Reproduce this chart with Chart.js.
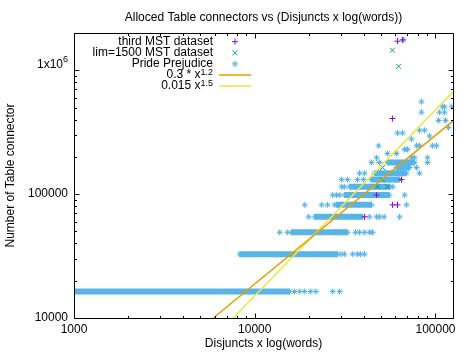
<!DOCTYPE html>
<html><head><meta charset="utf-8">
<script src="https://cdn.jsdelivr.net/npm/chart.js@4.4.1/dist/chart.umd.min.js"></script>
<style>html,body{margin:0;padding:0;background:#fff}#wrap{width:474px;height:355px}</style>
</head><body><div id="wrap"><canvas id="c" width="474" height="355"></canvas></div>
<script>
const FONT = '"Liberation Sans", Arial, sans-serif';
const titleText = 'Alloced Table connectors vs (Disjuncts x log(words))';
const xTitle = 'Disjuncts x log(words)';
const yTitle = 'Number of Table connector';
const xRange = [1000, 125000];
const yRange = [10000, 2000000];
const xTicks = [1000, 10000, 100000];
const xTickLabels = ['1000', '10000', '100000'];
const yTicks = [10000, 100000, 1000000];
const yTickLabels = ['10000', '100000', '1x10^6'];
const legendLabels = ['third MST dataset', 'lim=1500 MST dataset', 'Pride Prejudice', '0.3 * x^1.2', '0.015 x^1.5'];

// third MST dataset (+)
const thirdX = [61650, 65770, 57800, 40550, 57800, 61650, 64860, 47200];
const thirdY = [1718000, 1758000, 408000, 65536, 81920, 81920, 131072, 98304];
// lim=1500 MST dataset (x)
const limX = [57800, 62500, 50900, 47900, 54300, 50900];
const limY = [1452000, 1077000, 163840, 114688, 114688, 131072];
// Pride Prejudice: dense horizontal runs of points
const ppBandLevels = [16384, 32768, 49152, 65536, 81920, 98304, 114688, 131072, 147456, 163840, 180224];
const ppBandStart = [950, 8260, 16000, 21430, 28370, 31420, 33490, 44860, 46000, 60900, 54300];
const ppBandEnd = [15600, 28750, 32650, 39510, 44280, 55680, 55680, 63230, 69200, 71800, 76550];
// Pride Prejudice: isolated points (y level, x values)
const ppStarLevels = [16384, 32768, 49152, 65536, 81920, 98304, 114688, 131072, 147456, 163840, 180224,
  196608, 212992, 229376, 245760, 278528, 294912, 311296, 327680, 344064, 393216, 458752, 507904, 557056, 1760000];
const ppStarXs = [
  [16600, 17740, 18900, 20400, 21800, 27000, 29500],
  [30000, 31400, 34800, 37000, 38500, 40500],
  [13740, 15200, 36110, 38000, 40550, 43190, 44860],
  [19870, 43190, 47200, 49080, 52000, 63230],
  [18900, 23450, 25300, 27660, 69200],
  [26980, 28370, 29510, 67450],
  [30260, 31420, 58000],
  [30260, 32650, 37040, 40000, 44280],
  [38000, 40550, 81620],
  [78500],
  [44280, 49080, 90300],
  [47200, 73650, 76550, 90300],
  [54300, 60900],
  [67450, 70000],
  [48420, 78500, 81620, 96200, 101300],
  [73650],
  [92700],
  [61650, 65770],
  [81620, 86960],
  [118000],
  [103900, 113600],
  [83720, 105200, 112200],
  [109300, 112200, 123000],
  [83720],
  [66500]
];
// fitted curves, end points
const orangeX = [5900, 125000];
const orangeY = [10000, 390000];
const yellowX = [7600, 125000];
const yellowY = [10000, 670000];

const C_PURPLE = '#9400d3', C_GREEN = '#009e73', C_BLUE = '#56b4e9', C_ORANGE = '#e69f00', C_YELLOW = '#f0e442';

const zip = (xs, ys) => xs.map((x, i) => ({x, y: ys[i]}));
const ppStars = [];
ppStarLevels.forEach((lvl, i) => ppStarXs[i].forEach(x => ppStars.push({x, y: lvl})));

const datasets = [
  {data: zip(orangeX, orangeY), showLine: true, borderColor: C_ORANGE, borderWidth: 1.5, pointRadius: 0, order: 0},
  {data: zip(yellowX, yellowY), showLine: true, borderColor: C_YELLOW, borderWidth: 1.5, pointRadius: 0, order: 0},
  {data: zip(thirdX, thirdY), showLine: false, pointStyle: 'cross', pointRadius: 3, borderColor: C_PURPLE, borderWidth: 1, order: 1},
  {data: zip(limX, limY), showLine: false, pointStyle: 'crossRot', pointRadius: 3.5, borderColor: C_GREEN, borderWidth: 1, order: 2},
  {data: ppStars, showLine: false, pointStyle: 'star', pointRadius: 3, borderColor: C_BLUE, borderWidth: 1, order: 3}
];
ppBandLevels.forEach((lvl, i) => datasets.push({
  data: [{x: ppBandStart[i], y: lvl}, {x: ppBandEnd[i], y: lvl}],
  showLine: true, borderColor: C_BLUE, borderWidth: 6, borderCapStyle: 'butt',
  pointStyle: 'star', pointRadius: 3, pointBorderWidth: 1, pointBorderColor: C_BLUE, order: 4
}));

function drawRich(ctx, label, rightX, baseline, size, supSize, raise) {
  const [main, sup] = label.split('^');
  ctx.font = size + 'px ' + FONT;
  const mw = ctx.measureText(main).width;
  let sw = 0;
  if (sup) { ctx.font = supSize + 'px ' + FONT; sw = ctx.measureText(sup).width; }
  const x0 = rightX - mw - sw;
  ctx.textAlign = 'left'; ctx.textBaseline = 'alphabetic';
  ctx.font = size + 'px ' + FONT;
  ctx.fillText(main, x0, baseline);
  if (sup) { ctx.font = supSize + 'px ' + FONT; ctx.fillText(sup, x0 + mw, baseline - raise); }
}

const framePlugin = {
  id: 'frame',
  afterDatasetsDraw(chart) {
    const {ctx, chartArea: a, scales: {x, y}} = chart;
    ctx.save();
    ctx.strokeStyle = '#000'; ctx.lineWidth = 1;
    ctx.beginPath();
    const L = a.left + 0.5, R = a.right + 0.5, T = a.top + 0.5, B = a.bottom + 0.5;
    ctx.rect(L, T, R - L, B - T);
    const minorX = [], minorY = [];
    for (let d = 1000; d <= 100000; d *= 10) for (let m = 2; m <= 9; m++) if (d * m < xRange[1]) minorX.push(d * m);
    for (let d = 10000; d <= 1000000; d *= 10) for (let m = 2; m <= 9; m++) if (d * m < yRange[1]) minorY.push(d * m);
    const tx = (v, len) => { const p = Math.round(x.getPixelForValue(v)) + 0.5; ctx.moveTo(p, B); ctx.lineTo(p, B - len); ctx.moveTo(p, T); ctx.lineTo(p, T + len); };
    const ty = (v, len) => { const p = Math.round(y.getPixelForValue(v)) + 0.5; ctx.moveTo(L, p); ctx.lineTo(L + len, p); ctx.moveTo(R, p); ctx.lineTo(R - len, p); };
    xTicks.forEach(v => tx(v, 5)); minorX.forEach(v => tx(v, 2.5));
    yTicks.forEach(v => ty(v, 5)); minorY.forEach(v => ty(v, 2.5));
    ctx.stroke();

    ctx.fillStyle = '#000';
    // rich y tick labels (with superscript)
    yTickLabels.forEach((lab, i) => {
      if (lab.includes('^')) drawRich(ctx, lab, a.left - 6, y.getPixelForValue(yTicks[i]) - 2.7, 12, 9, 5.5);
    });
    // legend
    const colors = [C_PURPLE, C_GREEN, C_BLUE, C_ORANGE, C_YELLOW];
    const styles = ['cross', 'crossRot', 'star'];
    const radii = [3, 3.5, 3];
    legendLabels.forEach((lab, i) => {
      const ry = 41.7 + i * 11.1;
      ctx.fillStyle = '#000';
      drawRich(ctx, lab, 213, ry + 3, 12, 9, 3.5);
      if (i < 3) {
        ctx.strokeStyle = colors[i]; ctx.lineWidth = 1;
        Chart.helpers.drawPoint(ctx, {pointStyle: styles[i], radius: radii[i], borderWidth: 1}, 235, ry);
      } else {
        ctx.strokeStyle = colors[i]; ctx.lineWidth = 1.5;
        ctx.beginPath(); ctx.moveTo(219, ry); ctx.lineTo(251, ry); ctx.stroke();
      }
    });
    ctx.restore();
  }
};

const tickFont = {family: FONT, size: 12};
new Chart(document.getElementById('c'), {
  type: 'scatter',
  data: {datasets},
  options: {
    responsive: false, animation: false, events: [],
    layout: {padding: {left: 0, right: 21, top: 0, bottom: 0}},
    plugins: {
      legend: {display: false}, tooltip: {enabled: false},
      title: {display: true, text: titleText, color: '#000', fullSize: false,
        font: {family: FONT, size: 12, weight: 'normal'}, padding: {top: 10, bottom: 8.6}}
    },
    scales: {
      x: {
        type: 'logarithmic', position: 'bottom', min: xRange[0], max: xRange[1],
        grid: {display: false, drawTicks: false}, border: {display: false},
        afterBuildTicks: s => { s.ticks = xTicks.map(v => ({value: v})); },
        afterFit: s => { s.height = 37; },
        ticks: {autoSkip: false, maxRotation: 0, padding: 4, color: '#000', font: tickFont,
          callback: (v, i) => xTickLabels[i]},
        title: {display: true, text: xTitle, color: '#000', font: tickFont, padding: {top: 0, bottom: 4}}
      },
      y: {
        type: 'logarithmic', position: 'left', min: yRange[0], max: yRange[1],
        grid: {display: false, drawTicks: false}, border: {display: false},
        afterBuildTicks: s => { s.ticks = yTicks.map(v => ({value: v})); },
        afterFit: s => { s.width = 74; },
        ticks: {autoSkip: false, padding: 6, color: '#000', font: tickFont,
          callback: (v, i) => yTickLabels[i].includes('^') ? '' : yTickLabels[i]},
        title: {display: true, text: yTitle, color: '#000', font: tickFont, padding: {top: 3, bottom: 0}}
      }
    }
  },
  plugins: [framePlugin]
});
</script>
</body></html>
